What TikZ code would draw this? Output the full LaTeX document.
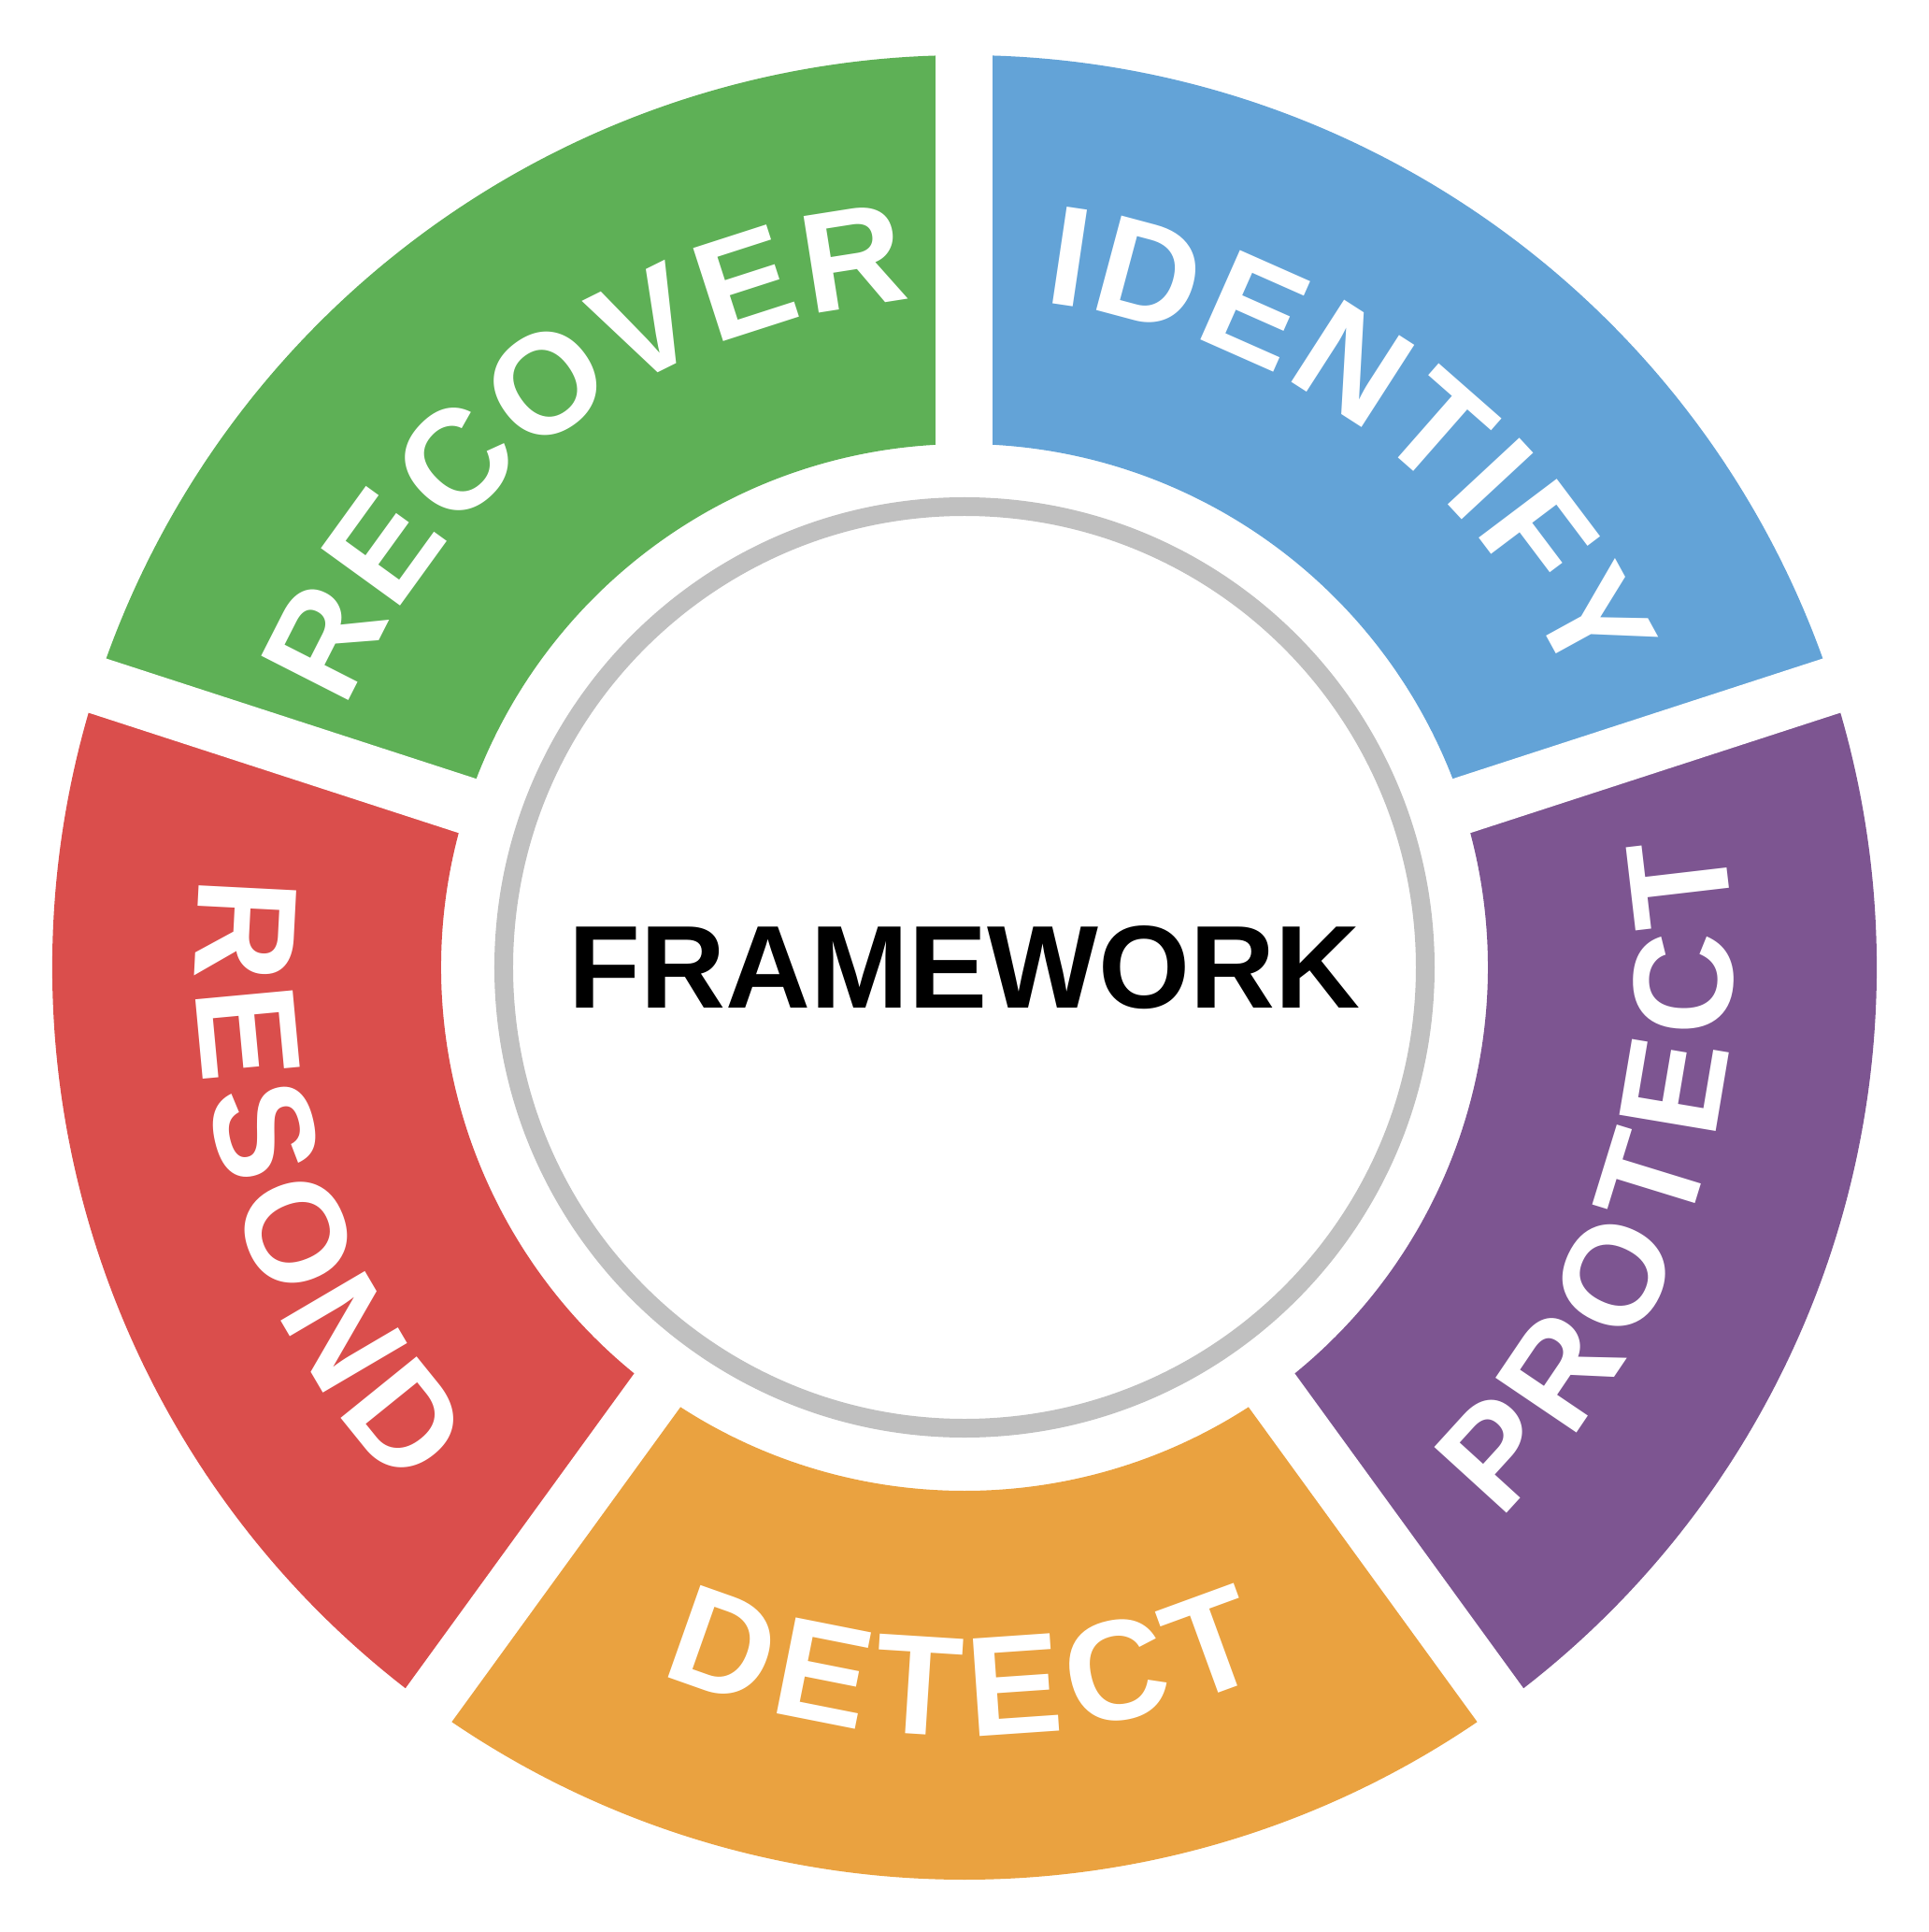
\documentclass[tikz,border=0pt]{standalone}
\usepackage{fontspec}
\setmainfont{Liberation Sans}
\usetikzlibrary{decorations.text}
\definecolor{cgreen}{HTML}{5EB056}
\definecolor{cblue}{HTML}{63A3D7}
\definecolor{cpurple}{HTML}{7D5591}
\definecolor{corange}{HTML}{EAA240}
\definecolor{cred}{HTML}{DA4E4C}
\definecolor{cgray}{HTML}{C0C0C0}
\newcommand{\bigf}{\fontsize{76pt}{80pt}\selectfont\bfseries}
\newcommand{\gapa}{\fontsize{10pt}{12pt}\selectfont}
\newcommand{\gapb}{\fontsize{22pt}{24pt}\selectfont}
\tikzset{
  seg/.style={fill=#1, draw=none},
  gapline/.style={white, line width=30.5pt},
  ringlabel/.style={decorate, decoration={text along path, text align=center,
     text color=white, text={#1}}}
}
\begin{document}
\begin{tikzpicture}
\useasboundingbox[fill=white] (-516pt,-516pt) rectangle (516pt,517.5pt);
\coordinate (c) at (0,0);
\foreach \a/\col in {54/cblue,126/cgreen,198/cred,270/corange,342/cpurple}{
  \fill[seg=\col] (\a-36:488pt) arc[start angle=\a-36, end angle=\a+36, radius=488pt]
     -- (\a+36:280pt) arc[start angle=\a+36, end angle=\a-36, radius=280pt] -- cycle;
}
\foreach \g in {18,90,162,234,306}{
  \coordinate (g\g) at (\g:500pt);
  \draw[gapline] (c) -- (g\g);
}
\draw[cgray, line width=10pt] (c) circle[radius=246.5pt];
\node[font=\fontsize{63pt}{66pt}\selectfont\bfseries] (fw) at (0,0) {FRAMEWORK};
\path[ringlabel={|\bigf|I|\gapa| |\bigf|D|\gapa| |\bigf|E|\gapa| |\bigf|N|\gapa| |\bigf|T|\gapa| |\bigf|I|\gapa| |\bigf|F|\gapa| |\bigf|Y}]
  (94:358pt) arc[start angle=94, end angle=14, radius=358pt];
\path[ringlabel={|\bigf|R|\gapa| |\bigf|E|\gapa| |\bigf|C|\gapa| |\bigf|O|\gapa| |\bigf|V|\gapa| |\bigf|E|\gapa| |\bigf|R}]
  (166:358pt) arc[start angle=166, end angle=86, radius=358pt];
\path[ringlabel={|\bigf|P|\gapb| |\bigf|R|\gapb| |\bigf|O|\gapb| |\bigf|T|\gapb| |\bigf|E|\gapb| |\bigf|C|\gapb| |\bigf|T}]
  (297:411pt) arc[start angle=297, end angle=387, radius=411pt];
\path[ringlabel={|\bigf|D|\gapb| |\bigf|E|\gapb| |\bigf|T|\gapb| |\bigf|E|\gapb| |\bigf|C|\gapb| |\bigf|T}]
  (225:411pt) arc[start angle=225, end angle=315, radius=411pt];
\path[ringlabel={|\bigf|R|\gapb| |\bigf|E|\gapb| |\bigf|S|\gapb| |\bigf|O|\gapb| |\bigf|N|\gapb| |\bigf|D}]
  (153:411pt) arc[start angle=153, end angle=243, radius=411pt];
\end{tikzpicture}
\end{document}
